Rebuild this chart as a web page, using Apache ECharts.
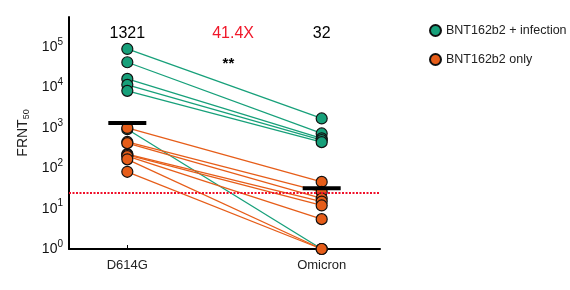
<!DOCTYPE html>
<html>
<head>
    <meta charset="utf-8">
    <title>FRNT50</title>
    <script src="https://cdn.jsdelivr.net/npm/echarts@6/dist/echarts.min.js"></script>
    <style>
        body { margin: 0; background: #fff; }
    </style>
</head>
<body>
    <div id="main" style="width: 570px;height:290px;"></div>
    <script type="text/javascript">
        // categories on the x axis (placed at x = 1 and x = 2)
        var groups = ['D614G', 'Omicron'];

        // paired titres, one entry per subject
        var infD614G   = [90800, 42500, 16400, 11700, 8300, 930];
        var infOmicron = [1720, 730, 550, 500, 445, 1];
        var onlyD614G   = [1000, 450, 420, 225, 215, 200, 167, 82];
        var onlyOmicron = [46, 26, 18, 15, 12, 5.5, 1, 1];

        // geometric means drawn as black bars
        var means = [1321, 32];
        var foldText = '41.4X';
        var sigText = '**';
        var threshold = 25;

        var GREEN = '#17a07a';
        var ORANGE = '#e65d19';
        var FONT = 'Liberation Sans, Arial, sans-serif';

        var myChart = echarts.init(document.getElementById('main'));

        function pairLines(a, b, color) {
            var out = [];
            for (var i = 0; i < a.length; i++) {
                out.push({
                    type: 'line',
                    data: [[1, a[i]], [2, b[i]]],
                    symbol: 'none',
                    silent: true,
                    lineStyle: { color: color, width: 1.3, opacity: 1 },
                    z: 1
                });
            }
            return out;
        }

        function points(a, b) {
            var d = [];
            a.forEach(function (v) { d.push([1, v]); });
            b.forEach(function (v) { d.push([2, v]); });
            return d;
        }

        var series = [];
        series = series.concat(pairLines(infD614G, infOmicron, GREEN));
        series = series.concat(pairLines(onlyD614G, onlyOmicron, ORANGE));

        series.push({
            name: 'BNT162b2 + infection',
            type: 'scatter',
            data: points(infD614G, infOmicron),
            symbolSize: 11,
            itemStyle: { color: GREEN, borderColor: '#111', borderWidth: 1.2, opacity: 1 },
            z: 3
        });
        series.push({
            name: 'BNT162b2 only',
            type: 'scatter',
            data: points(onlyD614G, onlyOmicron),
            symbolSize: 11,
            itemStyle: { color: ORANGE, borderColor: '#111', borderWidth: 1.2, opacity: 1 },
            markLine: {
                silent: true,
                symbol: 'none',
                label: { show: false },
                lineStyle: { color: '#f0102a', type: [2, 1.5], width: 2, opacity: 1 },
                data: [{ yAxis: threshold }]
            },
            z: 3
        });
        // mean bars
        series.push({
            type: 'scatter',
            data: means.map(function (v, i) { return [i + 1, v]; }),
            symbol: 'rect',
            symbolSize: [38, 4],
            itemStyle: { color: '#000', opacity: 1 },
            silent: true,
            z: 4
        });
        // text annotations above the columns
        series.push({
            type: 'scatter',
            symbolSize: 0,
            silent: true,
            itemStyle: { opacity: 1 },
            data: [
                { value: [1, 220000], label: { formatter: String(means[0]) } },
                { value: [2, 220000], label: { formatter: String(means[1]) } },
                { value: [1.544, 220000], label: { formatter: foldText, color: '#f0182a' } },
                { value: [1.52, 38000], label: { formatter: sigText, fontSize: 15, fontWeight: 'bold' } }
            ],
            label: {
                show: true,
                position: 'inside',
                color: '#000',
                fontSize: 16,
                fontFamily: FONT
            }
        });

        var option = {
            animation: false,
            grid: { left: 69, right: 190, top: 17, bottom: 41 },
            legend: {
                orient: 'vertical',
                left: 424,
                top: 19,
                itemWidth: 11,
                itemHeight: 11,
                itemGap: 16,
                icon: 'circle',
                data: ['BNT162b2 + infection', 'BNT162b2 only'],
                textStyle: { fontSize: 12.5, color: '#222', fontFamily: FONT }
            },
            xAxis: {
                type: 'value',
                min: 0.7,
                max: 2.3,
                splitLine: { show: false },
                axisLine: { lineStyle: { color: '#000', width: 2 } },
                axisTick: {
                    show: true,
                    inside: true,
                    length: 4,
                    customValues: [1, 2],
                    lineStyle: { color: '#000' }
                },
                axisLabel: {
                    customValues: [1, 2],
                    margin: 10,
                    fontSize: 13,
                    color: '#222',
                    fontFamily: FONT,
                    formatter: function (v) { return groups[Math.round(v) - 1]; }
                }
            },
            yAxis: {
                type: 'log',
                logBase: 10,
                min: 1,
                max: 562000,
                splitLine: { show: false },
                axisTick: { show: false },
                axisLine: { show: true, lineStyle: { color: '#000', width: 2 } },
                name: '{a|FRNT}{b|50}',
                nameLocation: 'middle',
                nameRotate: 90,
                nameGap: 37,
                nameTextStyle: {
                    rich: {
                        a: { fontSize: 14, color: '#222', fontFamily: FONT },
                        b: { fontSize: 9, color: '#222', fontFamily: FONT, padding: [7, 0, 0, 0] }
                    }
                },
                axisLabel: {
                    showMaxLabel: false,
                    margin: 6,
                    formatter: function (v) {
                        var e = Math.round(Math.log10(v));
                        return '{b|10}{s|' + e + '}';
                    },
                    rich: {
                        b: { fontSize: 14, color: '#111', fontFamily: FONT },
                        s: { fontSize: 10, color: '#111', fontFamily: FONT, padding: [0, 0, 10, 0] }
                    }
                }
            },
            series: series
        };
        myChart.setOption(option);
    </script>
</body>
</html>
